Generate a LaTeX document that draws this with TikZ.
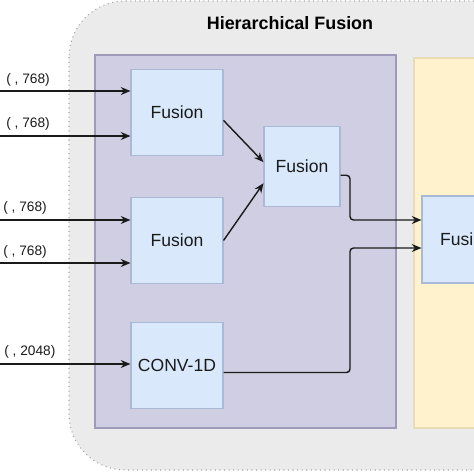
\documentclass[tikz,border=0pt]{standalone}
\usepackage{fontspec}
\setmainfont{Liberation Sans}
\usetikzlibrary{arrows.meta}
\definecolor{outerfill}{HTML}{EBEBEB}
\definecolor{outerline}{HTML}{A6A6A6}
\definecolor{purplefill}{HTML}{D0CEE2}
\definecolor{purpleline}{HTML}{9E9AB8}
\definecolor{yellowfill}{HTML}{FFF2CC}
\definecolor{yellowline}{HTML}{E8DCB4}
\definecolor{bluefill}{HTML}{DAE8FC}
\definecolor{blueline}{HTML}{A8BAD6}
\definecolor{textdark}{HTML}{1A1A1A}
\tikzset{
  fusebox/.style={draw=blueline, fill=bluefill, line width=0.6pt, minimum width=1.84cm, minimum height=1.72cm, text=textdark, font=\fontsize{10}{12}\selectfont},
  arr/.style={-{Stealth[length=5.5pt,width=4.5pt]}, line width=0.8pt, draw=textdark},
  dimlabel/.style={anchor=west, inner sep=0pt, text=textdark, font=\fontsize{7.8}{9}\selectfont}
}
\begin{document}
\begin{tikzpicture}[x=0.02cm,y=-0.02cm]
\useasboundingbox (0,0) rectangle (474,474);
\clip (0,0) rectangle (474,474);
% containers
\draw[outerline, fill=outerfill, dotted, line width=0.6pt, rounded corners=32pt] (69,1) rectangle (600,470);
\node[font=\bfseries\fontsize{10.2}{12}\selectfont] (title) at (290,23) {Hierarchical Fusion};
\draw[purpleline, fill=purplefill, line width=0.6pt] (95,55) rectangle (396,428);
\draw[yellowline, fill=yellowfill, line width=0.6pt] (414,58) rectangle (600,428);
% blocks
\node[fusebox] (f1) at (177,112.5) {Fusion};
\node[fusebox] (f2) at (177,240.5) {Fusion};
\node[fusebox] (conv) at (177,365.5) {CONV-1D};
\node[fusebox, minimum width=1.52cm, minimum height=1.6cm] (f3) at (302,166.5) {Fusion};
\node[fusebox, minimum width=1.78cm, minimum height=1.74cm] (f4) at (466.5,239.5) {Fusion};
% inputs
\coordinate (in1) at (-5,91);
\coordinate (in2) at (-5,136);
\coordinate (in3) at (-5,220);
\coordinate (in4) at (-5,263);
\coordinate (in5) at (-5,364);
\draw[arr] (in1) -- (in1 -| f1.west);
\draw[arr] (in2) -- (in2 -| f1.west);
\draw[arr] (in3) -- (in3 -| f2.west);
\draw[arr] (in4) -- (in4 -| f2.west);
\draw[arr] (in5) -- (in5 -| conv.west);
\node[dimlabel] (d1) at (6,80) {( , 768)};
\node[dimlabel] (d2) at (6,124) {( , 768)};
\node[dimlabel] (d3) at (3,208) {( , 768)};
\node[dimlabel] (d4) at (3,252) {( , 768)};
\node[dimlabel] (d5) at (4,352) {( , 2048)};
% hierarchy
\draw[arr] ([yshift=-4.5pt]f1.east) -- ([yshift=2.5pt]f3.west);
\draw[arr] ([yshift=0pt]f2.east) -- ([yshift=-9.5pt]f3.west);
\draw[arr, rounded corners=2pt] ([yshift=-5pt]f3.east) -| (350,220) -- (350,220 -| f4.west);
\draw[arr, rounded corners=2pt] ([yshift=-4pt]conv.east) -| (350,248) -- (350,248 -| f4.west);
\end{tikzpicture}
\end{document}
